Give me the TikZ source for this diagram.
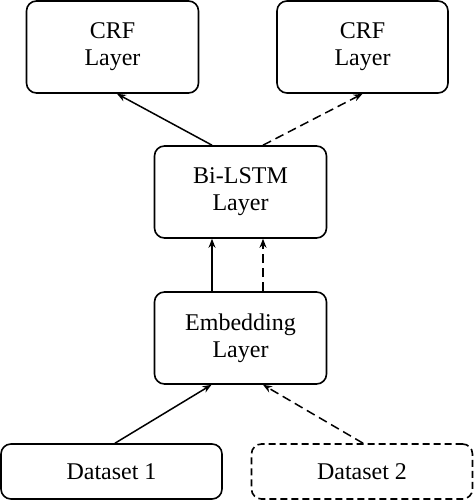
\documentclass[tikz,border=0pt]{standalone}
\usepackage{fontspec}
\setmainfont{Liberation Serif}
\usetikzlibrary{arrows.meta}
\begin{document}
\begin{tikzpicture}[x=1pt,y=1pt,
    layer/.style={draw, line width=1.6pt, rounded corners=10pt, align=center,
        inner sep=0pt, font=\fontsize{24}{27}\selectfont},
    dashbox/.style={dash pattern=on 7pt off 4pt},
    link/.style={line width=1.5pt, -{Stealth[length=9pt,width=7pt]}},
    dashlink/.style={link, dash pattern=on 9pt off 5pt}]
\useasboundingbox (0,0) rectangle (474,500);
% Draw the layers
        \node[layer, minimum width=172pt, minimum height=92pt] (crfA) at (112.5,453) {CRF\\Layer};
        \node[layer, minimum width=171pt, minimum height=92pt] (crfB) at (362.5,453) {CRF\\Layer};
        \node[layer, minimum width=172pt, minimum height=92pt] (lstm) at (240.5,308) {Bi-LSTM\\Layer};
        \node[layer, minimum width=172pt, minimum height=92pt] (embed) at (240.5,162) {Embedding\\Layer};
        \node[layer, minimum width=221pt, minimum height=55pt] (dataA) at (111.5,28.5) {Dataset 1};
        \node[layer, dashbox, minimum width=221pt, minimum height=55pt] (dataB) at (362,28.5) {Dataset 2};
% Draw the arrows
        \draw[link] ([xshift=3.5pt]dataA.north) -- ([xshift=-29pt]embed.south);
        \draw[dashlink] ([xshift=1pt]dataB.north) -- ([xshift=22.5pt]embed.south);
        \draw[link] ([xshift=-28.5pt]embed.north) -- ([xshift=-28.5pt]lstm.south);
        \draw[dashlink] ([xshift=22.5pt]embed.north) -- ([xshift=22.5pt]lstm.south);
        \draw[link] ([xshift=-28.5pt]lstm.north) -- ([xshift=4.5pt]crfA.south);
        \draw[dashlink] ([xshift=22.5pt]lstm.north) -- (crfB.south);
      \end{tikzpicture}
\end{document}
